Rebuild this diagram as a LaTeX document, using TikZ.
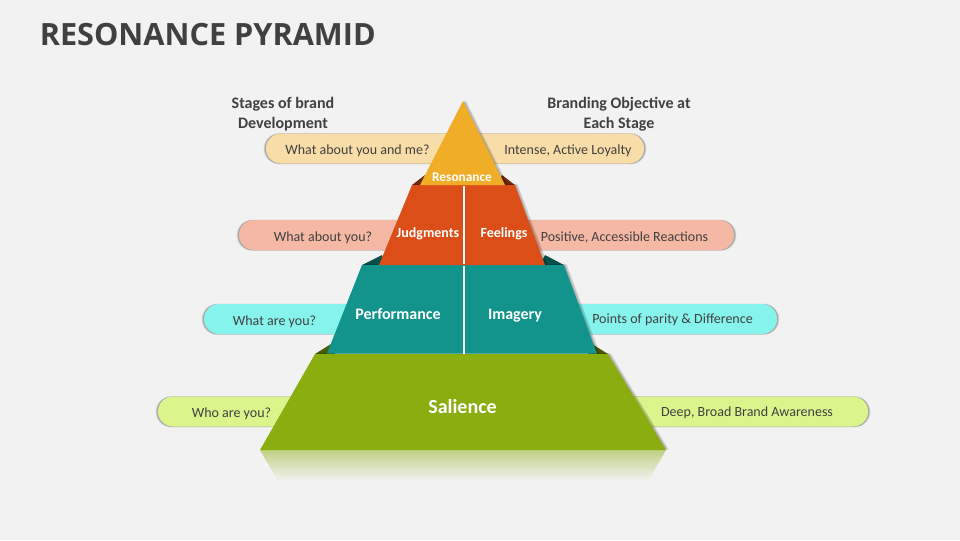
\documentclass[tikz,border=0pt]{standalone}
\usepackage{fontspec}
\setmainfont{Carlito}
\newfontfamily\titlefont{Open Sans}
\usetikzlibrary{shapes.misc,shadows}
\definecolor{bgc}{HTML}{F2F2F2}
\definecolor{inkc}{HTML}{404040}
\definecolor{pillA}{HTML}{F9DDA8}
\definecolor{pillB}{HTML}{F4B8A4}
\definecolor{pillC}{HTML}{86F3EC}
\definecolor{pillD}{HTML}{DCF48C}
\definecolor{tierA}{HTML}{F0AD28}
\definecolor{tierB}{HTML}{DB4E18}
\definecolor{tierC}{HTML}{12948C}
\definecolor{tierD}{HTML}{8AAD10}
\definecolor{darkA}{HTML}{6E2A0C}
\definecolor{darkC}{HTML}{08504C}
\definecolor{darkD}{HTML}{4A5C08}
\newcommand{\fs}[1]{\fontsize{#1}{#1}\selectfont}
\tikzset{
  x=0.75pt,y=-0.75pt,
  pillbase/.style={rounded rectangle,inner sep=0pt,minimum height=22.5pt},
  pillleft/.style={pillbase,
    general shadow={fill=black,opacity=.10,draw=black,line width=.9pt,shadow xshift=-1.3pt,shadow yshift=-.2pt},
    general shadow={fill=black,opacity=.22,shadow xshift=-.8pt,shadow yshift=-.1pt}},
  pillright/.style={pillbase,
    general shadow={fill=black,opacity=.10,draw=black,line width=.9pt,shadow xshift=1.3pt,shadow yshift=-.2pt},
    general shadow={fill=black,opacity=.22,shadow xshift=.8pt,shadow yshift=-.1pt}},
  pilltext/.style={text=inkc,inner sep=0pt,font=\fs{10.5}},
  tierlabel/.style={text=white,inner sep=0pt,font=\bfseries},
  headtext/.style={text=inkc,inner sep=0pt,align=center,font=\fs{12}\bfseries},
  tiershadow/.style={
    general shadow={fill=black,opacity=.14,shadow xshift=2pt,shadow yshift=.4pt},
    general shadow={fill=black,opacity=.14,shadow xshift=1pt,shadow yshift=.2pt}},
}
\begin{document}
\begin{tikzpicture}
\path[use as bounding box,fill=bgc] (0,0) rectangle (960,540);

\node[anchor=west,text=inkc,inner sep=0pt,font=\titlefont\fs{23}\bfseries] (title) at (39.5,35) {RESONANCE PYRAMID};

\node[headtext] (headL) at (283,114.5) {\fs{12}\bfseries Stages of brand\\[3pt]Development};
\node[headtext] (headR) at (619,114.5) {\fs{12}\bfseries Branding Objective at\\[3pt]Each Stage};

% pills
\node[pillleft,fill=pillA,minimum width=150pt] (p1l) at (366,148.5) {};
\node[pillright,fill=pillA,minimum width=153pt] (p1r) at (542,148.5) {};
\node[pillleft,fill=pillB,minimum width=135pt] (p2l) at (329,235) {};
\node[pillright,fill=pillB,minimum width=165pt] (p2r) at (624,235) {};
\node[pillleft,fill=pillC,minimum width=120pt] (p3l) at (284,319) {};
\node[pillright,fill=pillC,minimum width=172.5pt] (p3r) at (662,319) {};
\node[pillleft,fill=pillD,minimum width=120pt] (p4l) at (238,411.5) {};
\node[pillright,fill=pillD,minimum width=201pt] (p4r) at (734,411.5) {};

% reflection
\shade[top color=tierD!48!bgc,bottom color=bgc] (260,450) -- (666,450) -- (648,481) -- (278,481) -- cycle;

% dark folds
\fill[darkD] (315,354) -- (331,344) -- (335,354) -- cycle;
\fill[darkD] (608,354) -- (592,344) -- (588,354) -- cycle;
\fill[darkC] (362,265) -- (382,255) -- (386,265) -- cycle;
\fill[darkC] (564,265) -- (545,255) -- (540,265) -- cycle;
\fill[darkA] (412,185) -- (425,175) -- (428,185) -- cycle;
\fill[darkA] (515,185) -- (502,175) -- (498,185) -- cycle;

% tiers
\fill[tierD,tiershadow] (315,354) -- (608,354) -- (666,450) -- (260,450) -- cycle;
\fill[tierC,tiershadow] (362,265) -- (564,265) -- (597,353.5) -- (327,353.5) -- cycle;
\fill[tierB,tiershadow] (412,185) -- (515,185) -- (545,265) -- (379,265) -- cycle;
\fill[tierA,tiershadow] (463,101) -- (505,185) -- (420,185) -- cycle;

% dividers
\coordinate (d1) at (464,186);
\coordinate (d2) at (464,264);
\coordinate (d3) at (464,266);
\coordinate (d4) at (464,353.5);
\draw[white,line width=1.1pt] (d1) -- (d2);
\draw[white,line width=1.1pt] (d3) -- (d4);

% tier labels
\node[tierlabel,font=\fs{10}\bfseries] (res) at (462,177) {Resonance};
\node[tierlabel,font=\fs{10.5}\bfseries] (jud) at (428,234) {Judgments};
\node[tierlabel,font=\fs{10.5}\bfseries] (fee) at (504,234) {Feelings};
\node[tierlabel,font=\fs{12}\bfseries] (per) at (398,314) {Performance};
\node[tierlabel,font=\fs{12}\bfseries] (ima) at (515,316) {Imagery};
\node[tierlabel,font=\fs{15}\bfseries] (sal) at (462.5,407) {Salience};

% pill texts
\node[pilltext] (t1l) at (357.5,151) {What about you and me?};
\node[pilltext] (t1r) at (568,151) {Intense, Active Loyalty};
\node[pilltext] (t2l) at (323,237.5) {What about you?};
\node[pilltext] (t2r) at (624.5,237.5) {Positive, Accessible Reactions};
\node[pilltext] (t3l) at (274.5,321.5) {What are you?};
\node[pilltext] (t3r) at (672.5,319.5) {Points of parity \& Difference};
\node[pilltext] (t4l) at (231.5,413.5) {Who are you?};
\node[pilltext] (t4r) at (747,412.5) {Deep, Broad Brand Awareness};
\end{tikzpicture}
\end{document}
